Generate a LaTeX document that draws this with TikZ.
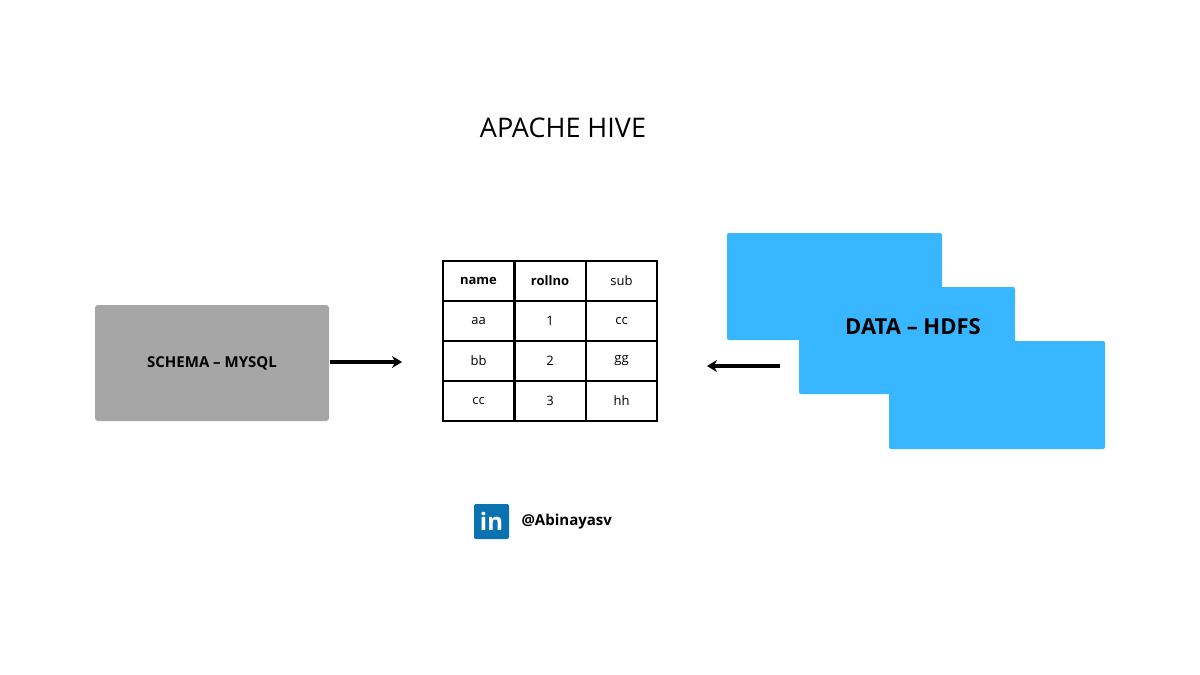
\documentclass[tikz,border=0pt]{standalone}
\usepackage{fontspec}
\setmainfont{Open Sans}
\usetikzlibrary{arrows.meta}
\definecolor{hdfsblue}{HTML}{38B6FF}
\definecolor{schemagray}{HTML}{A6A6A6}
\definecolor{lnblue}{HTML}{0A72B1}
\tikzset{
  cell/.style={draw, line width=2pt, minimum width=71pt, minimum height=40pt, inner sep=0pt, font=\fontsize{13}{15}\selectfont},
  blk/.style={fill=hdfsblue, rounded corners=2pt},
  arr/.style={-{Stealth[length=10pt,width=12pt]}, line width=3.5pt}
}
\begin{document}
\begin{tikzpicture}[x=1pt,y=-1pt]
    \useasboundingbox (0,0) rectangle (1200,675);
    \node (title) at (563,128) {\fontsize{27}{30}\selectfont APACHE HIVE};
    % schema side
    \draw[fill=schemagray, draw=none, rounded corners=3pt] (95,305) rectangle (329,421);
    \node[font=\bfseries\fontsize{15}{18}\selectfont] (schema) at (212,363) {SCHEMA -- MYSQL};
    \coordinate (schemaout) at (330,362);
    % table
    \foreach \txt [count=\i from 0] in {\textbf{name},\textbf{rollno},sub,aa,1,cc,bb,2,gg,cc,3,hh} {
        \pgfmathtruncatemacro{\col}{mod(\i,3)}
        \pgfmathtruncatemacro{\row}{div(\i,3)}
        \node[cell] (c\row\col) at (478.5+\col*71.5, 281+\row*40) {\txt};
    }
    % data side
    \fill[blk] (727,233) rectangle (942,340);
    \fill[blk] (799,287) rectangle (1015,394);
    \fill[blk] (889,341) rectangle (1105,449);
    \node[font=\bfseries\fontsize{22}{26}\selectfont] (data) at (913,327) {DATA -- HDFS};
    \coordinate (dataout) at (780,366);
    \coordinate (schemain) at (402,362);
    \coordinate (datain) at (707,366);
    \draw[arr] (schemaout) -- (schemain);
    \draw[arr] (dataout) -- (datain);
    % handle
    \node[fill=lnblue, rounded corners=2pt, minimum size=35pt, inner sep=0pt, text=white,
          font=\bfseries\fontsize{24}{24}\selectfont] (logo) at (491.5,521.5) {in};
    \node[anchor=west, font=\bfseries\fontsize{15}{18}\selectfont] (handle) at (518,522) {@Abinayasv};
\end{tikzpicture}
\end{document}
